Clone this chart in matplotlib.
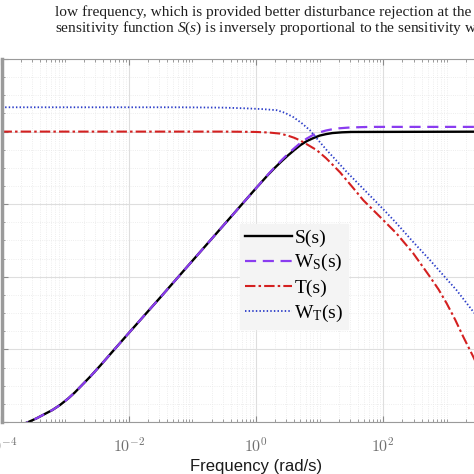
import numpy as np
import matplotlib.pyplot as plt
from matplotlib.font_manager import FontProperties
from matplotlib.ticker import FixedLocator, LogLocator, FuncFormatter, MultipleLocator, NullFormatter

plt.rcParams['mathtext.fontset'] = 'cm'
plt.rcParams['mathtext.rm'] = 'Liberation Serif'
plt.rcParams['mathtext.it'] = 'Liberation Serif:italic'

# magnitudes: log10(frequency in rad/s) and dB
s_logw = [-4.0, -3.577, -3.45, -3.342, -3.2, -3.079, -2.95, -2.85, -2.75, -2.6, -2.45, -2.3,
          -2.0, -1.5, -1.0, -0.5, 0.0, 0.2, 0.3, 0.4, 0.5, 0.6, 0.7, 0.8, 0.9, 1.0, 1.1,
          1.2, 1.35, 1.5, 4.0]
s_db = [-83.0, -80.0, -79.0, -78.0, -76.7, -75.3, -73.5, -71.9, -70.1, -67.4, -64.5, -61.5,
        -55.5, -45.6, -35.6, -25.6, -15.6, -11.7, -9.9, -8.2, -6.6, -5.1, -3.7, -2.6, -1.8, -1.1, -0.7,
        -0.4, -0.2, -0.1, 0.0]

ws_logw = [-4.0, -3.577, -3.45, -3.342, -3.2, -3.079, -2.95, -2.85, -2.75, -2.6, -2.45, -2.3,
           -2.0, -1.5, -1.0, -0.5, 0.0, 0.2, 0.3, 0.4, 0.5, 0.6, 0.7, 0.8, 0.9, 1.0, 1.1,
           1.2, 1.3, 1.45, 1.6, 1.8, 4.0]
ws_db = [-83.0, -80.0, -79.0, -78.0, -76.7, -75.3, -73.5, -71.9, -70.1, -67.4, -64.5, -61.5,
         -55.5, -45.6, -35.6, -25.6, -15.6, -11.6, -9.7, -7.9, -6.2, -4.6, -3.1, -1.9, -0.9, -0.2, 0.3,
         0.65, 0.9, 1.1, 1.2, 1.3, 1.3]

t_logw = [-4.0, -0.5, -0.2, 0.0, 0.2, 0.377, 0.5, 0.6, 0.691, 0.8, 0.954, 1.1, 1.214, 1.325,
          1.425, 1.55, 1.686, 1.95, 2.211, 2.47, 2.734, 2.87, 2.996, 3.13, 3.257, 3.414, 3.6, 4.0]
t_db = [0.0, 0.0, -0.05, -0.1, -0.25, -0.55, -1.1, -1.7, -2.4, -3.5, -5.1, -7.3, -9.3, -11.3,
        -13.4, -16.0, -18.9, -23.5, -28.1, -33.5, -40.0, -43.5, -47.3, -51.8, -56.5, -62.0, -69.0, -85.0]

wt_logw = [-4.0, -1.2, -0.5, -0.146, 0.1, 0.325, 0.45, 0.586, 0.72, 0.848, 0.98, 1.111, 1.27,
           1.425, 1.582, 1.75, 1.896, 2.05, 2.211, 2.47, 2.734, 2.95, 3.153, 3.414, 4.0]
wt_db = [6.7, 6.7, 6.6, 6.4, 6.2, 5.9, 5.2, 4.0, 2.3, 0.36, -2.4, -5.1, -8.1,
         -11.1, -13.9, -16.9, -19.5, -22.3, -25.3, -30.4, -35.4, -39.7, -43.7, -49.6, -61.5]

labels = ['S(s)', r'W$_{\mathrm{S}}$(s)', 'T(s)', r'W$_{\mathrm{T}}$(s)']

line1 = 'low frequency, which is provided better disturbance rejection at the'
line2 = 'sensitivity function $S$($s$) is inversely proportional to the sensitivity w'

W = 474.0
fig = plt.figure(figsize=(4.74, 4.74), dpi=100)
# axes runs past the right edge, the picture is a crop of a page
ax = fig.add_axes([1.5 / W, 1 - 422 / W, 509 / W, 363 / W])

ax.plot(np.power(10.0, s_logw), s_db, color='black', lw=1.7, label=labels[0])
ax.plot(np.power(10.0, ws_logw), ws_db, color='#8a3cf0', lw=1.6, ls=(0, (5, 3)), label=labels[1])
ax.plot(np.power(10.0, t_logw), t_db, color='#d42020', lw=1.5, ls=(0, (5, 1.5, 1.2, 1.5)), label=labels[2])
ax.plot(np.power(10.0, wt_logw), wt_db, color='#2a3cc8', lw=1.3, ls=(0, (0.8, 1.2)), label=labels[3])

ax.set_xscale('log')
ax.set_xlim(1e-4, 1e4)
ax.set_ylim(-80, 20)
ax.xaxis.set_major_locator(FixedLocator([1e-4, 1e-2, 1e0, 1e2]))
ax.xaxis.set_minor_locator(LogLocator(base=10, subs=np.arange(1, 10), numticks=50))
ax.xaxis.set_major_formatter(FuncFormatter(lambda v, p: r'$10^{%d}$' % round(np.log10(v))))
ax.xaxis.set_minor_formatter(NullFormatter())
ax.yaxis.set_major_locator(MultipleLocator(20))
ax.yaxis.set_minor_locator(MultipleLocator(5))

ax.grid(True, which='major', color='#dedede', lw=0.8)
ax.grid(True, which='minor', color='#e8e8e8', lw=0.6, ls=':')
ax.set_axisbelow(True)

for side in ['top', 'bottom', 'left', 'right']:
    ax.spines[side].set_color('#9a9a9a')
ax.spines['left'].set_linewidth(2.5)
ax.tick_params(which='both', direction='in', top=True, right=True, color='#8a8a8a',
               labelleft=False, labelcolor='#707070', labelsize=11.5, pad=10)
ax.tick_params(which='major', length=4.5)
ax.tick_params(which='minor', length=2.5)

ax.set_xlabel('Frequency (rad/s)', family='Liberation Sans', fontsize=12, color='#1a1a1a', va='baseline')
ax.xaxis.set_label_coords(0.5, -(470.7 - 422) / 363)

leg_font = FontProperties(family='Liberation Serif', size=14, math_fontfamily='custom')
leg = ax.legend(loc='upper left', bbox_to_anchor=(240 / W, 1 - 224 / W), bbox_transform=fig.transFigure,
                prop=leg_font, handlelength=2.4, handletextpad=0.15, labelspacing=0.3,
                borderpad=0.25, borderaxespad=0, fancybox=False, frameon=True)
leg.get_frame().set_facecolor('#f4f4f4')
leg.get_frame().set_edgecolor('#f4f4f4')
leg.get_frame().set_alpha(1)

# page text above the figure
t1 = fig.text(55 / W, 1 - 16 / W, line1, family='Liberation Serif', fontsize=11, color='#1e1e1e', va='baseline')
renderer = fig.canvas.get_renderer()
fs = 11 * 413.0 / t1.get_window_extent(renderer).width
t1.set_fontsize(fs)
fig.text(55 / W, 1 - 32 / W, line2, family='Liberation Serif', fontsize=fs, color='#1e1e1e',
         va='baseline', math_fontfamily='custom')

fig.savefig('out.png', dpi=100)
